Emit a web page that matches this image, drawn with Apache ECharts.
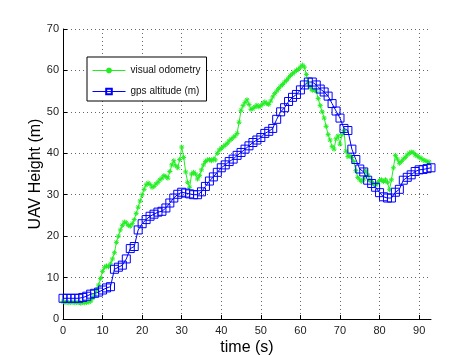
<!DOCTYPE html>
<html>
<head>
<meta charset="utf-8">
<script src="https://cdn.jsdelivr.net/npm/echarts@6/dist/echarts.min.js"></script>
<style>html,body{margin:0;padding:0;background:#fff}#c{width:474px;height:355px}</style>
</head>
<body>
<div id="c"></div>
<script>
// tick labels
const xTicks = [0, 10, 20, 30, 40, 50, 60, 70, 80, 90];
const yTicks = [0, 10, 20, 30, 40, 50, 60, 70];
const seriesNames = ['visual odometry', 'gps altitude (m)'];

// visual odometry: [time (s), height (m)]
const visualOdometry = [
[0,4.2],[0.5,4.0],[1,4.1],[1.5,3.9],[2,4.0],[2.5,4.1],[3,3.9],[3.5,4.0],[4,4.0],[4.5,3.8],
[5,4.0],[5.5,3.9],[6,4.0],[6.5,4.1],[7,4.3],[7.5,5.0],[8,5.8],[8.5,7.0],[9,8.2],[9.5,9.8],
[10,11.5],[10.5,12.5],[11,12.8],[11.5,12.6],[12,13.3],[12.5,14.5],[13,16.0],[13.5,18.5],[14,20.0],[14.5,21.5],
[15,22.6],[15.5,23.4],[16,23.2],[16.5,22.6],[17,22.4],[17.5,23.0],[18,24.0],[18.5,25.5],[19,27.0],[19.5,28.5],
[20,30.0],[20.5,31.3],[21,32.4],[21.5,32.8],[22,32.5],[22.5,31.8],[23,32.0],[23.5,32.6],[24,33.0],[24.5,33.6],
[25,34.0],[25.5,34.6],[26,34.4],[26.5,34.0],[27,35.6],[27.5,37.2],[28,38.2],[28.5,37.0],[29,36.5],[29.5,38.5],
[30,41.5],[30.5,39.0],[31,35.5],[31.5,33.0],[32,31.8],[32.5,35.0],[33,35.4],[33.5,35.0],[34,33.8],[34.5,34.6],
[35,36.0],[35.5,37.2],[36,38.0],[36.5,38.4],[37,38.5],[37.5,38.2],[38,38.6],[38.5,38.4],[39,40.0],[39.5,40.8],
[40,41.2],[40.5,41.6],[41,42.0],[41.5,42.4],[42,43.0],[42.5,43.4],[43,43.8],[43.5,44.2],[44,44.8],[44.5,47.5],
[45,50.4],[45.5,51.5],[46,52.3],[46.5,52.9],[47,51.8],[47.5,50.6],[48,50.8],[48.5,51.2],[49,51.6],[49.5,51.2],
[50,51.5],[50.5,51.9],[51,52.4],[51.5,52.0],[52,51.8],[52.5,52.6],[53,53.6],[53.5,54.4],[54,55.0],[54.5,55.6],
[55,56.2],[55.5,56.6],[56,57.2],[56.5,57.6],[57,58.2],[57.5,58.8],[58,59.2],[58.5,59.6],[59,60.0],[59.5,60.3],
[60,60.8],[60.5,61.3],[61,60.8],[61.5,59.0],[62,57.0],[62.5,55.8],[63,55.2],[63.5,55.3],[64,55.0],[64.5,53.2],
[65,51.5],[65.5,50.0],[66,48.5],[66.5,46.5],[67,44.5],[67.5,43.2],[68,41.6],[68.5,41.0],[69,43.5],[69.5,44.2],
[70,42.2],[70.5,44.5],[71,45.5],[71.5,40.5],[72,39.2],[72.5,39.4],[73,39.0],[73.5,38.0],[74,35.8],[74.5,34.2],
[75,33.6],[75.5,33.2],[76,33.8],[76.5,35.8],[77,34.8],[77.5,33.6],[78,33.2],[78.5,32.6],[79,32.4],[79.5,32.8],
[80,33.4],[80.5,33.6],[81,33.2],[81.5,33.6],[82,33.0],[82.5,31.2],[83,33.6],[83.5,36.5],[84,39.5],[84.5,38.6],
[85,37.6],[85.5,38.0],[86,38.6],[86.5,39.0],[87,39.6],[87.5,40.0],[88,40.3],[88.5,40.2],[89,39.6],[89.5,39.4],
[90,39.0],[90.5,38.8],[91,38.4],[91.5,38.2],[92,38.0],[92.5,37.9]
];

// gps altitude: [time (s), height (m)]
const gpsAltitude = [
[0,5],[1,5],[2,5],[3,5],[4,5],[5,5.2],[6,5.5],[7,6],[8,6.2],[9,6.5],
[10,7],[11,7.5],[12,7.8],[13,12],[14,12.5],[15,13],[16,14.5],[17,17],[18,17.5],[19,21.5],
[20,23],[21,24],[22,24.8],[23,25.3],[24,25.8],[25,26],[26,26.8],[27,28],[28,29.2],[29,30.1],
[30,30.6],[31,30.4],[32,30.2],[33,30],[34,30],[35,30.7],[36,32],[37,33.3],[38,34.3],[39,35.4],
[40,36.5],[41,37.2],[42,38],[43,38.6],[44,39.5],[45,40.2],[46,41],[47,41.8],[48,42.6],[49,43.2],
[50,43.8],[51,44.8],[52,45.3],[53,46],[54,48.2],[55,50],[56,51],[57,52.5],[58,53.5],[59,54.2],
[60,55.3],[61,56.5],[62,57.2],[63,57.2],[64,56.5],[65,55.5],[66,54.8],[67,53.8],[68,52],[69,50.2],
[70,48.5],[71,46],[72,45.5],[73,41],[74,38.5],[75,36.2],[76,35.5],[77,33.5],[78,32.7],[79,31.8],
[80,30.5],[81,29.5],[82,29.2],[83,29.2],[84,30.6],[85,31.3],[86,33.5],[87,34.2],[88,34.8],[89,35.6],
[90,36],[91,36.1],[92,36.3],[93,36.5]
];

const chart = echarts.init(document.getElementById('c'), null, {renderer: 'canvas'});
const dotColor = '#666';
const axisFont = {fontFamily: 'Liberation Sans, Arial, sans-serif'};
const starPath = 'path://M0,-5L0,5M-5,0L5,0M-3.6,-3.6L3.6,3.6M-3.6,3.6L3.6,-3.6';
// vertical grid lines at the tick marks only (none at the right edge, x = 93)
const xGridColors = xTicks.map(() => dotColor).concat(['rgba(0,0,0,0)']);

chart.setOption({
  animation: false,
  backgroundColor: '#fff',
  grid: {left: 63, right: 43, top: 29, bottom: 36, containLabel: false, outerBoundsMode: 'none'},
  legend: {
    left: 87, top: 57, orient: 'vertical',
    padding: [8.5, 6, 4.5, 5], itemGap: 11, itemWidth: 33, itemHeight: 7,
    backgroundColor: '#fff', borderColor: '#000', borderWidth: 1,
    lineStyle: {width: 1},
    textStyle: Object.assign({fontSize: 10, color: '#111'}, axisFont),
    data: seriesNames
  },
  xAxis: {
    type: 'value', min: 0, max: 93, interval: 10,
    name: 'time (s)', nameLocation: 'middle', nameGap: 21, nameMoveOverlap: false,
    nameTextStyle: Object.assign({fontSize: 16, color: '#000'}, axisFont),
    axisLine: {show: true, onZero: false, lineStyle: {color: '#000', width: 1}},
    axisTick: {show: true, inside: true, length: 4, lineStyle: {color: '#000'}},
    axisLabel: Object.assign({fontSize: 11, color: '#222', margin: 6, showMaxLabel: false,
      formatter: v => xTicks.indexOf(v) >= 0 ? String(v) : ''}, axisFont),
    splitLine: {show: true, lineStyle: {color: xGridColors, width: 1, type: [1, 3]}}
  },
  yAxis: {
    type: 'value', min: 0, max: 70, interval: 10,
    name: 'UAV Height (m)', nameLocation: 'middle', nameGap: 19, nameRotate: 90, nameMoveOverlap: false,
    nameTextStyle: Object.assign({fontSize: 16, color: '#000'}, axisFont),
    axisLine: {show: true, onZero: false, lineStyle: {color: '#000', width: 1}},
    axisTick: {show: true, inside: true, length: 4, lineStyle: {color: '#000'}},
    axisLabel: Object.assign({fontSize: 11, color: '#222', margin: 4,
      formatter: v => yTicks.indexOf(v) >= 0 ? String(v) : ''}, axisFont),
    splitLine: {show: true, lineStyle: {color: dotColor, width: 1, type: [1, 3]}}
  },
  series: [
    {
      name: seriesNames[0], type: 'line', data: visualOdometry,
      symbol: starPath, symbolSize: 5, showAllSymbol: true,
      lineStyle: {color: '#22ee22', width: 1},
      itemStyle: {color: '#22ee22', borderColor: '#22ee22', borderWidth: 1}
    },
    {
      name: seriesNames[1], type: 'line', data: gpsAltitude,
      symbol: 'rect', symbolSize: 8, showAllSymbol: true,
      lineStyle: {color: '#0000ff', width: 1},
      itemStyle: {color: 'rgba(255,255,255,0)', borderColor: '#0000ff', borderWidth: 1}
    }
  ]
});
</script>
</body>
</html>
